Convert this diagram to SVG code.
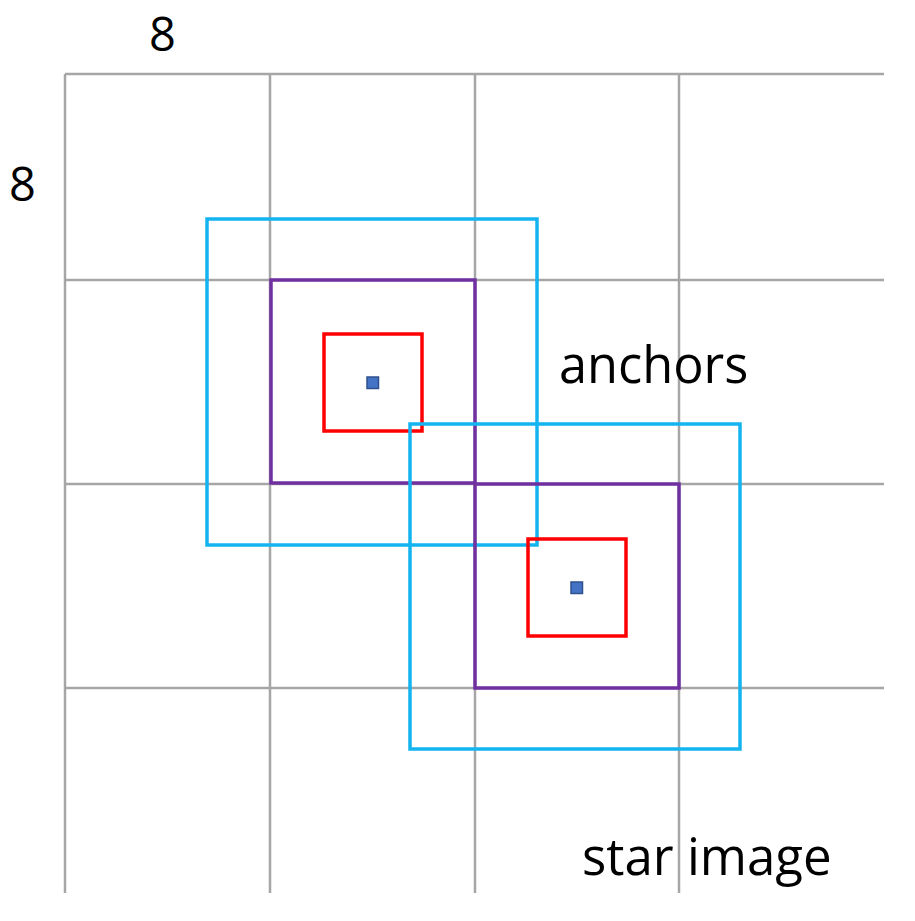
<svg xmlns="http://www.w3.org/2000/svg" width="915" height="921" viewBox="0 0 915 921">
<style>
.grid{stroke:#a6a6a6;stroke-width:2.5;fill:none}
.cyan{stroke:#14b4f0;stroke-width:3.5;fill:none}
.purple{stroke:#7030a0;stroke-width:3.5;fill:none}
.red{stroke:#ff0000;stroke-width:3.5;fill:none}
.dot{fill:#4472c4;stroke:#2f528f;stroke-width:1.5}
.t{font-family:"Open Sans","Noto Sans",sans-serif;fill:#000}
</style>
<rect width="915" height="921" fill="#fff"/>
<g id="grid">
<line class="grid" x1="65" y1="74" x2="65" y2="893"/>
<line class="grid" x1="270" y1="74" x2="270" y2="893"/>
<line class="grid" x1="475" y1="74" x2="475" y2="893"/>
<line class="grid" x1="679" y1="74" x2="679" y2="893"/>
<line class="grid" x1="65" y1="74" x2="884" y2="74"/>
<line class="grid" x1="65" y1="280" x2="884" y2="280"/>
<line class="grid" x1="65" y1="484" x2="884" y2="484"/>
<line class="grid" x1="65" y1="688" x2="884" y2="688"/>
</g>
<g id="cell1">
<rect class="cyan" x="207" y="219" width="330" height="326"/>
<rect class="purple" x="271" y="280" width="204" height="203"/>
<rect class="red" x="324" y="334" width="98" height="97"/>
<rect class="dot" x="367" y="377" width="11.5" height="11.5"/>
</g>
<g id="cell2">
<rect class="cyan" x="410" y="424" width="330" height="325"/>
<rect class="purple" x="475" y="484" width="204" height="204"/>
<rect class="red" x="528" y="539" width="98" height="97"/>
<rect class="dot" x="571" y="582" width="11.5" height="11.5"/>
</g>
<g id="labels">
<text class="t" x="162.5" y="51" font-size="47" text-anchor="middle">8</text>
<text class="t" x="22.5" y="201" font-size="47" text-anchor="middle">8</text>
<text class="t" x="559" y="383" font-size="50.5">anchors</text>
<text class="t" x="582" y="875" font-size="51">star image</text>
</g>
</svg>
